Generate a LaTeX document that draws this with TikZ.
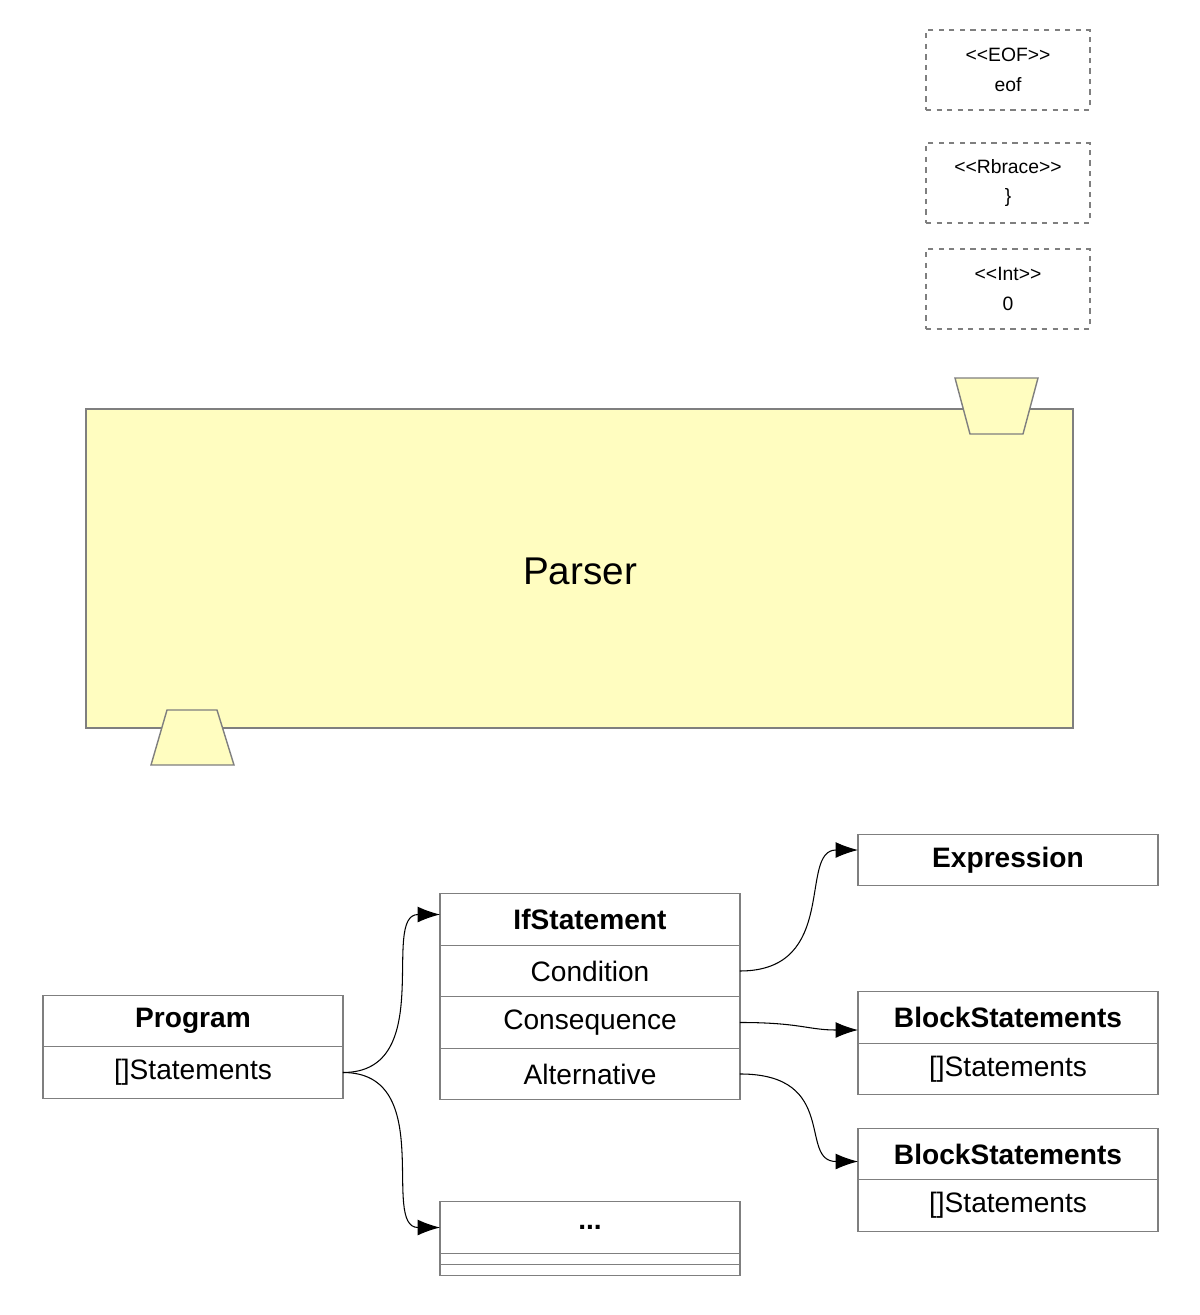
\documentclass[tikz,border=0pt]{standalone}
\usepackage{fontspec}
\setmainfont{Liberation Sans}
\usetikzlibrary{positioning,arrows.meta}
\definecolor{boxgray}{HTML}{7F7F7F}
\definecolor{parseryellow}{HTML}{FFFDC0}
\tikzset{
  token/.style={draw=boxgray,thick,dashed,minimum width=3.28cm,minimum height=1.6cm,align=center,font=\fontsize{11}{17}\selectfont},
  head/.style={draw=boxgray,thick,fill=white,minimum width=6cm,minimum height=1.03cm,font=\fontsize{16}{19}\selectfont\bfseries,inner sep=0pt,outer sep=0pt},
  field/.style={draw=boxgray,thick,fill=white,minimum width=6cm,minimum height=1.03cm,font=\fontsize{16}{19}\selectfont,inner sep=0pt,outer sep=0pt},
  link/.style={-{Latex[length=4.5mm,width=3.2mm]},semithick},
  port/.style={draw=boxgray,thick,fill=parseryellow}
}
\begin{document}
\begin{tikzpicture}[x=0.02cm,y=-0.02cm]
  \useasboundingbox (0,0) rectangle (1200,1315);
  % tokens
  \node[token] (eof) at (1008,70) {<{}<EOF>{}>\\eof};
  \node[token] (rbrace) at (1008,183) {<{}<Rbrace>{}>\\\}};
  \node[token] (int) at (1008,289) {<{}<Int>{}>\\0};

  % parser
  \filldraw[draw=boxgray,thick,fill=parseryellow] (86,409) rectangle (1073,728);
  \node[font=\fontsize{22}{26}\selectfont] (parser) at (580,571) {Parser};
  \filldraw[port] (955,378) -- (1038,378) -- (1023,434) -- (970,434) -- cycle;
  \filldraw[port] (167,710) -- (217,710) -- (234,765) -- (151,765) -- cycle;

  % AST
  \node[head] (program) at (193,1021) {Program};
  \node[field,below=0pt of program] (progstmts) {[]Statements};

  \node[head] (ifstmt) at (590,919.5) {IfStatement};
  \node[field,below=0pt of ifstmt] (cond) {Condition};
  \node[field,below=0pt of cond] (conseq) {Consequence};
  \node[field,below=0pt of conseq] (alt) {Alternative};

  \node[head] (more) at (590,1227.5) {...};
  \node[draw=boxgray,thick,minimum width=6cm,minimum height=0.22cm,inner sep=0pt,outer sep=0pt,below=0pt of more] (more1) {};
  \node[draw=boxgray,thick,minimum width=6cm,minimum height=0.22cm,inner sep=0pt,outer sep=0pt,below=0pt of more1] (more2) {};

  \node[head] (expr) at (1008,860) {Expression};
  \node[head] (block1) at (1008,1017.5) {BlockStatements};
  \node[field,below=0pt of block1] (block1stmts) {[]Statements};
  \node[head] (block2) at (1008,1154) {BlockStatements};
  \node[field,below=0pt of block2] (block2stmts) {[]Statements};

  \draw[link] (progstmts.east) .. controls +(95,0) and +(-60,0) .. ([yshift=0.1cm]ifstmt.west);
  \draw[link] (progstmts.east) .. controls +(95,0) and +(-60,0) .. (more.west);
  \draw[link] (cond.east) .. controls +(100,0) and +(-60,0) .. ([yshift=0.2cm]expr.west);
  \draw[link] (conseq.east) .. controls +(60,0) and +(-50,0) .. (block1.west |- 0,1030);
  \draw[link] (alt.east) .. controls +(100,0) and +(-60,0) .. ([yshift=-0.15cm]block2.west);
\end{tikzpicture}
\end{document}
